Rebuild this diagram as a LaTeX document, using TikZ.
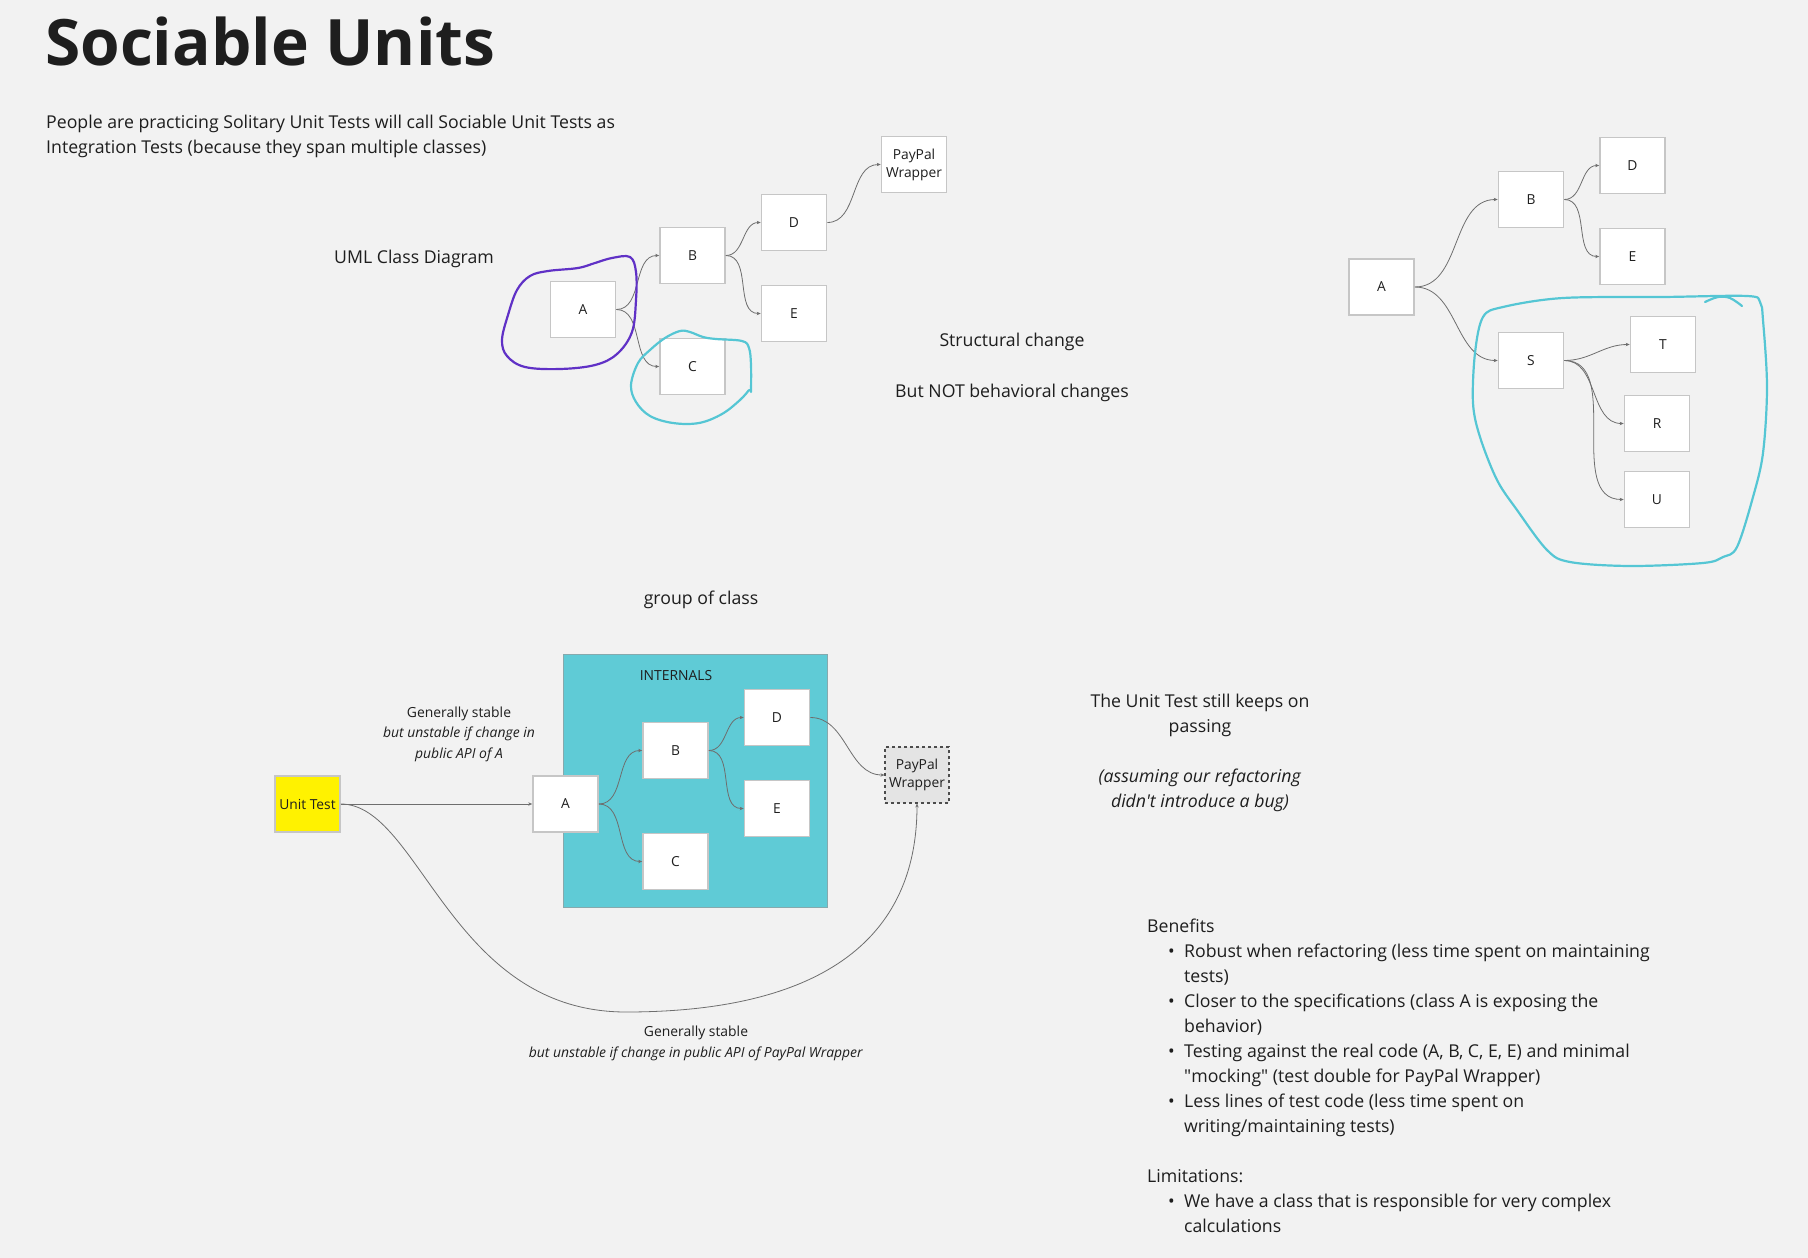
\documentclass[tikz,border=0pt]{standalone}
\usepackage{fontspec}
\setmainfont{Open Sans}
\usetikzlibrary{arrows.meta}
\definecolor{bg}{HTML}{F2F2F2}
\definecolor{ink}{HTML}{1E1E1E}
\definecolor{boxline}{HTML}{C6C6C6}
\definecolor{linegray}{HTML}{6E6E6E}
\definecolor{teal}{HTML}{5FCBD6}
\definecolor{tealline}{HTML}{86A9AD}
\definecolor{sticky}{HTML}{FFF200}
\definecolor{ppfill}{HTML}{E4E4E4}
\definecolor{violetpen}{HTML}{6031C6}
\definecolor{cyanpen}{HTML}{55C6D4}
\begin{document}
\begin{tikzpicture}[x=1pt,y=-1pt,
  cls/.style={draw=boxline, fill=white, line width=1.6pt, minimum width=65pt, minimum height=56pt,
     inner sep=0pt, align=center, text=ink, font=\fontsize{13.8}{18}\selectfont},
  conn/.style={draw=linegray, line width=0.8pt, -{Stealth[length=4pt,width=3.4pt]}},
  txt/.style={inner sep=0pt, text=ink, font=\fontsize{17.7}{25}\selectfont},
  small/.style={inner sep=0pt, text=ink, font=\fontsize{13.9}{20.5}\selectfont},
  pen/.style={line width=2.2pt, line cap=round, line join=round}
]
\path[use as bounding box, fill=bg] (0,0) rectangle (1808,1258);

% ---------- title and intro (multi-line nodes: base = last line) ----------
\node[anchor=base west, inner sep=0pt, text=ink, font=\fontsize{64}{70}\bfseries\selectfont] (title) at (45,65) {Sociable Units};
\node[txt, anchor=base west, align=left] (intro) at (46,153)
  {People are practicing Solitary Unit Tests will call Sociable Unit Tests as\\Integration Tests (because they span multiple classes)};

% ---------- UML class diagram (top middle) ----------
\node[txt, anchor=base west] (umllbl) at (334,263) {UML Class Diagram};
\node[cls] (uA) at (583,309.5) {A};
\node[cls] (uB) at (692.5,255.5) {B};
\node[cls] (uC) at (692.5,366.5) {C};
\node[cls] (uD) at (794,222.5) {D};
\node[cls] (uE) at (794,313.5) {E};
\node[cls] (uP) at (914,164.5) {PayPal\\Wrapper};
\draw[conn] (uA.east) to[out=0,in=180] (uB.west);
\draw[conn] (uA.east) to[out=0,in=180] (uC.west);
\draw[conn] (uB.east) to[out=0,in=180] (uD.west);
\draw[conn] (uB.east) to[out=0,in=180] (uE.west);
\draw[conn] (uD.east) to[out=0,in=180] (uP.west);

% hand drawn circles
\draw[pen, violetpen] plot[smooth cycle, tension=0.6] coordinates {
  (630,257) (612,258) (595,263) (578,268) (548,271) (530,276) (517,290) (508,315)
  (502,340) (507,356) (525,367) (560,369) (595,365) (617,354) (632,332) (636,300) (636,272)};
\draw[pen, cyanpen] plot[smooth, tension=0.6] coordinates {
  (751,392) (751,365) (749,348) (742,341) (716,339) (703,337) (690,332) (680,331) (665,338)
  (650,350) (638,363) (631,385) (636,402) (650,416) (673,423) (699,423) (722,414) (740,400) (749,390)};

\node[txt, anchor=base] (struct) at (1012,346) {Structural change};
\node[txt, anchor=base] (notbeh) at (1012,397) {But NOT behavioral changes};

% ---------- refactored diagram (top right) ----------
\node[cls] (rA) at (1381.5,287) {A};
\node[cls] (rB) at (1531,199.5) {B};
\node[cls] (rD) at (1632.5,165.5) {D};
\node[cls] (rE) at (1632.5,256.5) {E};
\node[cls] (rS) at (1531,360.5) {S};
\node[cls] (rT) at (1663,344.5) {T};
\node[cls] (rR) at (1657,423.5) {R};
\node[cls] (rU) at (1657,499.5) {U};
\draw[conn] (rA.east) to[out=0,in=180] (rB.west);
\draw[conn] (rA.east) to[out=0,in=180] (rS.west);
\draw[conn] (rB.east) to[out=0,in=180] (rD.west);
\draw[conn] (rB.east) to[out=0,in=180] (rE.west);
\draw[conn] (rS.east) to[out=0,in=180] (rT.west);
\draw[conn] (rS.east) to[out=0,in=180] (rR.west);
\draw[conn] (rS.east) to[out=0,in=180] (rU.west);

\draw[pen, cyanpen] plot[smooth cycle, tension=0.55] coordinates {
  (1483,317) (1503,307) (1563,298) (1663,297) (1747,296) (1760,302) (1763,320) (1767,387)
  (1763,453) (1753,497) (1737,547) (1723,557) (1703,563) (1630,566) (1570,562) (1547,550)
  (1517,510) (1497,480) (1480,437) (1473,403) (1475,353)};
\draw[pen, cyanpen] plot[smooth, tension=0.6] coordinates {(1705,302) (1718,297) (1730,298) (1742,306)};

% ---------- group of class (bottom) ----------
\node[txt, anchor=base] (grp) at (701,604) {group of class};
\node[draw=tealline, fill=teal, line width=0.8pt, minimum width=264pt, minimum height=253pt, inner sep=0pt] (internals) at (695,780.5) {};
\node[small, anchor=base] (intlbl) at (676,680) {INTERNALS};

\node[cls, fill=sticky, draw=boxline] (ut) at (307.5,804) {Unit Test};
\node[cls] (bA) at (565.5,804) {A};
\node[cls] (bB) at (675.5,750.5) {B};
\node[cls] (bC) at (675.5,861.5) {C};
\node[cls] (bD) at (777,717.5) {D};
\node[cls] (bE) at (777,808.5) {E};
\node[cls, fill=ppfill, draw=black!70, dashed, line width=1.1pt, minimum width=64pt] (bP) at (917,775) {PayPal\\Wrapper};

\draw[conn] (ut.east) -- (bA.west);
\draw[conn] (bA.east) to[out=0,in=180] (bB.west);
\draw[conn] (bA.east) to[out=0,in=180] (bC.west);
\draw[conn] (bB.east) to[out=0,in=180] (bD.west);
\draw[conn] (bB.east) to[out=0,in=180] (bE.west);
\draw[conn] (bD.east) to[out=0,in=180] (bP.west);
\draw[conn] (ut.east) .. controls (420,804) and (450,1012) .. (626,1012)
                      .. controls (790,1012) and (917,960) .. (bP.south);

\node[small, anchor=base, align=center] (lblA) at (459,758)
  {Generally stable\\\textit{but unstable if change in}\\\textit{public API of A}};
\node[small, anchor=base, align=center] (lblP) at (696,1057)
  {Generally stable\\\textit{but unstable if change in public API of PayPal Wrapper}};

% ---------- notes (right) ----------
\node[txt, anchor=base, align=center] (pass) at (1200,807)
  {The Unit Test still keeps on\\passing\\~\\\textit{(assuming our refactoring}\\\textit{didn\textquotesingle t introduce a bug)}};

\node[txt, anchor=base west, align=left] (benefits) at (1147,1232)
  {Benefits\\
   \hspace*{21pt}\makebox[16pt][l]{\textbullet}Robust when refactoring (less time spent on maintaining\\
   \hspace*{37pt}tests)\\
   \hspace*{21pt}\makebox[16pt][l]{\textbullet}Closer to the specifications (class A is exposing the\\
   \hspace*{37pt}behavior)\\
   \hspace*{21pt}\makebox[16pt][l]{\textbullet}Testing against the real code (A, B, C, E, E) and minimal\\
   \hspace*{37pt}\textquotedbl mocking\textquotedbl{} (test double for PayPal Wrapper)\\
   \hspace*{21pt}\makebox[16pt][l]{\textbullet}Less lines of test code (less time spent on\\
   \hspace*{37pt}writing/maintaining tests)\\
   ~\\
   Limitations:\\
   \hspace*{21pt}\makebox[16pt][l]{\textbullet}We have a class that is responsible for very complex\\
   \hspace*{37pt}calculations};
\end{tikzpicture}
\end{document}
